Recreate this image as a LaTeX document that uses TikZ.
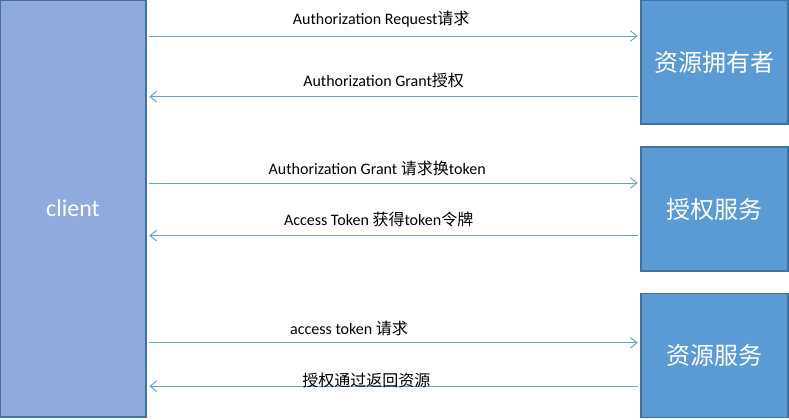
\documentclass[tikz,border=0pt]{standalone}
\usepackage{fontspec}
\setmainfont{Carlito}
\newfontfamily\cjk{Noto Sans CJK SC}
\usetikzlibrary{arrows.meta}
\definecolor{clientfill}{HTML}{8FAADC}
\definecolor{boxfill}{HTML}{5B9BD5}
\definecolor{boxline}{HTML}{41719C}
\definecolor{msgline}{HTML}{6A9FD8}
\tikzset{
  x=0.75pt, y=0.75pt, % one unit is one pixel of the reference
  party/.style={draw=boxline, line width=0.9pt, fill=boxfill, text=white,
    font=\fontsize{18}{20}\selectfont, inner sep=0pt}, % the boxes on the right
  msg/.style={draw=msgline, line width=0.75pt,
    -{Straight Barb[length=5pt,width=8pt]}, shorten <=2pt, shorten >=2pt}, % the messages
  msglabel/.style={font=\fontsize{12}{14}\selectfont, text=black, inner sep=0pt},
}
\begin{document}
\begin{tikzpicture}
  \useasboundingbox (0,0) rectangle (789,419);
  % client on the left
  \node[party, fill=clientfill, minimum width=109.5pt, minimum height=312.75pt] (client) at (73,210.5) {client};
  % servers on the right
  \node[party, minimum width=110.25pt, minimum height=93pt] (owner) at (714.5,357) {\cjk 资源拥有者};
  \node[party, minimum width=110.25pt, minimum height=93pt] (auth) at (714.5,210) {\cjk 授权服务};
  \node[party, minimum width=110.25pt, minimum height=93pt] (res) at (714.5,63.5) {\cjk 资源服务};

  % resource owner
  \draw[msg] ([yshift=19.5pt]client.east |- owner.west) -- ([yshift=19.5pt]owner.west)
    node[msglabel, pos=0.475, above=6pt] (reqlabel) {Authorization Request{\cjk 请求}};
  \draw[msg] ([yshift=-26pt]owner.west) -- ([yshift=-26pt]client.east |- owner.west)
    node[msglabel, pos=0.52, above=6pt] (grantlabel) {Authorization Grant{\cjk 授权}};
  % authorization server
  \draw[msg] ([yshift=19.5pt]client.east |- auth.west) -- ([yshift=19.5pt]auth.west)
    node[msglabel, pos=0.467, above=5pt] (swaplabel) {Authorization Grant {\cjk 请求换}token};
  \draw[msg] ([yshift=-20pt]auth.west) -- ([yshift=-20pt]client.east |- auth.west)
    node[msglabel, pos=0.53, above=6pt] (tokenlabel) {Access Token {\cjk 获得}token{\cjk 令牌}};
  % resource server
  \draw[msg] ([yshift=9.5pt]client.east |- res.west) -- ([yshift=9.5pt]res.west)
    node[msglabel, pos=0.41, above=5pt] (accesslabel) {access token {\cjk 请求}};
  \draw[msg] ([yshift=-23pt]res.west) -- ([yshift=-23pt]client.east |- res.west)
    node[msglabel, pos=0.555, above=-2pt] (backlabel) {\cjk 授权通过返回资源};
\end{tikzpicture}
\end{document}
